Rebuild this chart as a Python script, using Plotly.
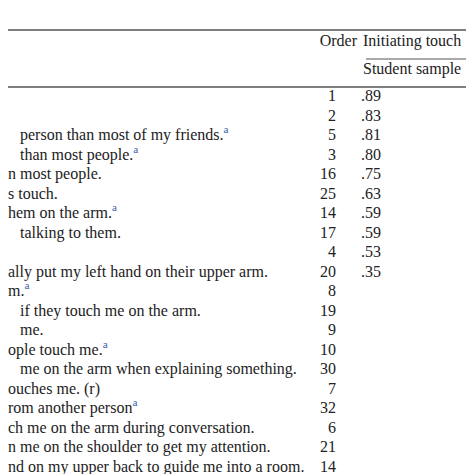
import plotly.graph_objects as go

SUP = "<sup><span style='color:#3b5fa8'>a</span></sup>"
items = [
    "", "",
    "\u00a0\u00a0 person than most of my friends." + SUP,
    "\u00a0\u00a0 than most people." + SUP,
    "n most people.",
    "s touch.",
    "hem on the arm." + SUP,
    "\u00a0\u00a0 talking to them.",
    "",
    "ally put my left hand on their upper arm.",
    "m." + SUP,
    "\u00a0\u00a0 if they touch me on the arm.",
    "\u00a0\u00a0 me.",
    "ople touch me." + SUP,
    "\u00a0\u00a0 me on the arm when explaining something.",
    "ouches me. (r)",
    "rom another person" + SUP,
    "ch me on the arm during conversation.",
    "n me on the shoulder to get my attention.",
    "nd on my upper back to guide me into a room.",
]
order = [1, 2, 5, 3, 16, 25, 14, 17, 4, 20, 8, 19, 9, 10, 30, 7, 32, 6, 21, 14]
student = [".89", ".83", ".81", ".80", ".75", ".63", ".59", ".59", ".53", ".35"]
second = [".", ".", ".", ".", ".", ".", ".", ".4", ".", ".4"]

row_y = [89 + 19.5 * i for i in range(len(order))]
font = dict(family="Liberation Serif", size=16, color="#222")

fig = go.Figure()
fig.add_trace(go.Scatter(x=[0] * len(items), y=row_y, text=items, mode="text",
                         textposition="middle right", textfont=font, cliponaxis=False))
fig.add_trace(go.Scatter(x=[328] * len(order), y=row_y, text=[str(o) for o in order],
                         mode="text", textposition="middle left", textfont=font, cliponaxis=False))
fig.add_trace(go.Scatter(x=[353] * len(student), y=row_y[:len(student)], text=student,
                         mode="text", textposition="middle right", textfont=font, cliponaxis=False))
fig.add_trace(go.Scatter(x=[463] * len(second), y=row_y[:len(second)], text=second,
                         mode="text", textposition="middle right", textfont=font, cliponaxis=False))
fig.add_trace(go.Scatter(x=[349, 355, 355, 465], y=[34, 34, 62, 62],
                         text=["Order", "Initiating touch", "Student sample", "S"],
                         mode="text",
                         textposition=["middle left", "middle right", "middle right", "middle right"],
                         textfont=font, cliponaxis=False))

line = dict(color="#555", width=1.5)
fig.add_shape(type="line", x0=0, x1=474, y0=22, y1=22, line=line)
fig.add_shape(type="line", x0=358, x1=474, y0=51, y1=51, line=dict(color="#555", width=1))
fig.add_shape(type="line", x0=0, x1=474, y0=79, y1=79, line=line)

fig.update_layout(width=474, height=474, margin=dict(l=0, r=0, t=0, b=0),
                  plot_bgcolor="white", paper_bgcolor="white", showlegend=False,
                  xaxis=dict(range=[0, 474], visible=False),
                  yaxis=dict(range=[474, 0], visible=False))
fig.write_html("out.html")
